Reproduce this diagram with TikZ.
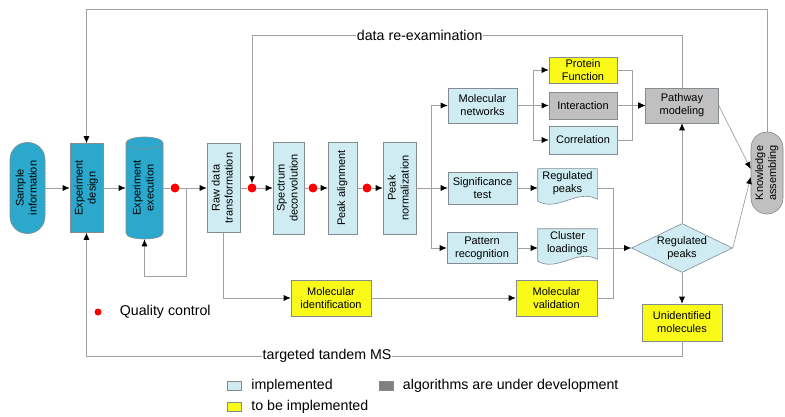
\documentclass[tikz,border=0pt]{standalone}
\usepackage{fontspec}
\setmainfont{Liberation Sans}
\usepackage{graphicx}
\usetikzlibrary{shapes.geometric,arrows.meta,positioning,calc,backgrounds}

\definecolor{implc}{RGB}{206,236,241}
\definecolor{darkc}{RGB}{44,168,204}
\definecolor{todoc}{RGB}{250,250,25}
\definecolor{devc}{RGB}{192,192,192}
\definecolor{devleg}{RGB}{128,128,128}
\definecolor{linec}{RGB}{160,160,160}
\definecolor{edgec}{RGB}{130,140,145}

\newcommand{\vtext}[1]{\rotatebox{90}{\begin{tabular}{@{}c@{}}#1\end{tabular}}}

\tikzset{
  box/.style={draw=edgec, line width=0.6pt, inner sep=1pt, align=center, font=\fontsize{11}{13}\selectfont},
  impl/.style={box, fill=implc},
  todo/.style={box, fill=todoc},
  devbox/.style={box, fill=devc},
  darkbox/.style={box, fill=darkc},
  conn/.style={draw=linec, line width=0.7pt, -{Latex[black,length=7pt,width=6pt]}},
  link/.style={draw=linec, line width=0.7pt},
  qc/.style={circle, fill=red, inner sep=0pt, minimum size=9pt},
  lbl/.style={font=\fontsize{14.2}{16}\selectfont, fill=white, inner sep=1pt},
  legsq/.style={draw=edgec, line width=0.5pt, minimum width=14, minimum height=9, inner sep=0pt},
  shapeline/.style={draw=edgec, line width=0.6pt}
}

\begin{document}
\begin{tikzpicture}[x=1pt,y=-1pt]
    \useasboundingbox (0,0) rectangle (785,417);

    % acquisition
    \node[darkbox, rounded corners=17pt, minimum width=35, minimum height=91] (sample) at (27.5,188) {\vtext{Sample\\information}};
    \node[darkbox, minimum width=33, minimum height=89] (design) at (86.5,188) {\vtext{Experiment\\design}};
    \node[box, draw=none, minimum width=37, minimum height=102] (exec) at (144.5,188) {\vtext{Experiment\\execution}};

    % preprocessing
    \node[qc] (q1) at (175,188) {};
    \node[impl, minimum width=33, minimum height=89] (raw) at (223.5,188) {\vtext{Raw data\\transformation}};
    \node[qc] (q2) at (252,188) {};
    \node[impl, minimum width=31, minimum height=92] (spec) at (288.5,188) {\vtext{Spectrum\\deconvolution}};
    \node[qc] (q3) at (313,188) {};
    \node[impl, minimum width=29, minimum height=92] (align) at (342.5,188) {\vtext{Peak alignment}};
    \node[qc] (q4) at (367,188) {};
    \node[impl, minimum width=33, minimum height=92] (norm) at (399.5,188) {\vtext{Peak\\normalization}};

    % analysis
    \node[impl, minimum width=69, minimum height=35] (molnet) at (482.5,105.5) {Molecular\\networks};
    \node[todo, minimum width=68, minimum height=26] (protein) at (583,70) {Protein\\Function};
    \node[devbox, minimum width=68, minimum height=27] (inter) at (583,105.5) {Interaction};
    \node[impl, minimum width=68, minimum height=28] (corr) at (583,140) {Correlation};
    \node[devbox, minimum width=73, minimum height=35] (path) at (682,105.5) {Pathway\\modeling};
    \node[devbox, rounded corners=16pt, minimum width=32, minimum height=82] (know) at (767,173) {\vtext{Knowledge\\assembling}};

    \node[impl, minimum width=69, minimum height=32] (sig) at (482.5,188) {Significance\\test};
    \node[box, draw=none, minimum width=59, minimum height=28] (regpk) at (567.5,183) {Regulated\\peaks};
    \node[impl, minimum width=70, minimum height=31] (pat) at (482,248) {Pattern\\recognition};
    \node[box, draw=none, minimum width=59, minimum height=28] (clus) at (567.5,243) {Cluster\\loadings};
    \node[impl, diamond, aspect=2, inner sep=0pt, minimum width=101, minimum height=49] (reg) at (682,248) {Regulated\\peaks};
    \node[todo, minimum width=80, minimum height=37] (unid) at (682,322.5) {Unidentified\\molecules};

    \node[todo, minimum width=80, minimum height=36] (molid) at (331,298) {Molecular\\identification};
    \node[todo, minimum width=81, minimum height=36] (molval) at (556.5,298) {Molecular\\validation};

    % cylinder and document shapes
    \begin{scope}[on background layer]
        \draw[shapeline, fill=darkc] (126,143) -- (126,233) .. controls (126,241) and (163,241) .. (163,233) -- (163,143) -- cycle;
        \draw[shapeline, fill=darkc] (144.5,143) ellipse [x radius=18.5, y radius=6];
        \foreach \n in {regpk,clus}
            \draw[shapeline, fill=implc] (\n.north west) -- (\n.north east) -- ([yshift=-2pt]\n.south east)
                .. controls +(-20,-11) and +(20,11) .. ([yshift=-4pt]\n.south west) -- cycle;
    \end{scope}

    % main flow
    \draw[conn] (sample) -- (design);
    \draw[conn] (design) -- (exec);
    \draw[link] (exec) -- (q1);
    \draw[conn] (q1) -- (raw);
    \draw[conn] (q1) ++(11,0) -- ++(0,88) -| (exec.south);
    \draw[link] (raw) -- (q2);
    \draw[conn] (q2) -- (spec);
    \draw[link] (spec) -- (q3);
    \draw[conn] (q3) -- (align);
    \draw[link] (align) -- (q4);
    \draw[conn] (q4) -- (norm);

    \draw[conn] (norm) -- (sig);
    \draw[conn] (norm.east) -- ++(15,0) |- (molnet);
    \draw[conn] (norm.east) -- ++(15,0) |- (pat);

    \draw[conn] (molnet) -- (inter);
    \draw[conn] (molnet.east) -- ++(16,0) |- (protein);
    \draw[conn] (molnet.east) -- ++(16,0) |- (corr);
    \draw[conn] (inter) -- (path);
    \draw[conn] (protein.east) -- ++(15,0) |- (path);
    \draw[conn] (corr.east) -- ++(15,0) |- (path);

    \draw[conn] (sig.east) -- (sig.east -| regpk.west);
    \draw[link] (regpk.east |- sig.east) -- ++(16,0) |- (molval.east);
    \draw[conn] (pat.east) -- (pat.east -| clus.west);
    \draw[conn] (clus.east |- pat.east) -- (reg.west);

    \draw[conn] (reg) -- (path);
    \draw[conn] (reg) -- (unid);
    \draw[conn] (path.east) -- ([yshift=4pt]know.west);
    \draw[conn] (reg.east) -- ([yshift=-4pt]know.west);

    \draw[conn] (raw.south) |- (molid.west);
    \draw[conn] (molid) -- (molval);

    % feedback loops
    \draw[conn] (know.north) -- ++(0,-122) -| (design.north);
    \draw[conn] (path.north) -- ++(0,-52) -| (q2.north) node[lbl, pos=0.305] {data re-examination};
    \draw[conn] (unid.south) -- ++(0,15) -| (design.south) node[lbl, pos=0.298] {targeted tandem MS};

    % legend
    \node[qc, minimum size=7pt] (qcdot) at (98,312) {};
    \node[lbl, right=17pt of qcdot] (qctext) {Quality control};
    \node[legsq, fill=implc] (limpl) at (234,386) {};
    \node[lbl, right=9pt of limpl] (limpltext) {implemented};
    \node[legsq, fill=todoc] (ltodo) at (234,407) {};
    \node[lbl, right=9pt of ltodo] (ltodotext) {to be implemented};
    \node[legsq, fill=devleg] (ldev) at (386.5,386) {};
    \node[lbl, right=8pt of ldev] (ldevtext) {algorithms are under development};
\end{tikzpicture}
\end{document}
